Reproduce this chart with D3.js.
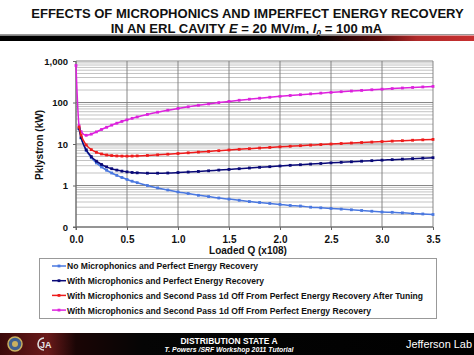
<!DOCTYPE html>
<html><head><meta charset="utf-8">
<script src="https://cdn.jsdelivr.net/npm/d3@7/dist/d3.min.js"></script>
<style>body{margin:0;background:#fff}svg{display:block}text{font-family:"Liberation Sans",Arial,sans-serif}</style>
</head><body>
<script>
const xValues = [0, 0.03, 0.05, 0.1, 0.15, 0.2, 0.25, 0.3, 0.35, 0.4, 0.45, 0.5, 0.55, 0.6, 0.7, 0.8, 0.9, 1.0, 1.1, 1.2, 1.3, 1.4, 1.5, 1.6, 1.7, 1.8, 1.9, 2.0, 2.1, 2.2, 2.3, 2.4, 2.5, 2.6, 2.7, 2.8, 2.9, 3.0, 3.1, 3.2, 3.3, 3.4, 3.5];
const noMicro = [null, 23.3, 14, 7, 4.67, 3.5, 2.8, 2.33, 2.0, 1.75, 1.56, 1.4, 1.27, 1.17, 1.0, 0.875, 0.78, 0.7, 0.64, 0.58, 0.54, 0.5, 0.47, 0.44, 0.41, 0.39, 0.37, 0.35, 0.33, 0.32, 0.30, 0.29, 0.28, 0.27, 0.26, 0.25, 0.24, 0.23, 0.226, 0.219, 0.212, 0.206, 0.2];
const withMicro = [null, 23.4, 14.2, 7.23, 4.96, 3.85, 3.21, 2.81, 2.54, 2.35, 2.22, 2.13, 2.06, 2.02, 1.98, 1.98, 2.0, 2.05, 2.11, 2.18, 2.26, 2.35, 2.44, 2.54, 2.64, 2.74, 2.84, 2.95, 3.06, 3.17, 3.28, 3.39, 3.51, 3.62, 3.73, 3.85, 3.97, 4.08, 4.2, 4.32, 4.44, 4.56, 4.68];
const offTuned = [null, 25.6, 16.4, 9.5, 7.32, 6.3, 5.75, 5.43, 5.25, 5.15, 5.11, 5.1, 5.12, 5.17, 5.3, 5.48, 5.68, 5.9, 6.14, 6.38, 6.64, 6.9, 7.17, 7.44, 7.71, 7.99, 8.27, 8.55, 8.83, 9.12, 9.4, 9.69, 9.98, 10.27, 10.56, 10.85, 11.14, 11.43, 11.73, 12.02, 12.31, 12.61, 12.9];
const offUntuned = [780, 27.6, 19.8, 16.2, 17.3, 19.6, 22.4, 25.3, 28.5, 31.7, 35.0, 38.2, 41.5, 44.9, 51.6, 58.4, 65.2, 72, 78.8, 85.7, 92.5, 99.4, 106.3, 113.2, 120, 127, 133.8, 140.6, 147.5, 154.4, 161.3, 168.2, 175, 182, 188.9, 195.8, 202.7, 209.5, 216.4, 223.3, 230.2, 237.1, 244];
const seriesNames = ["No Microphonics and Perfect Energy Recovery", "With Microphonics and Perfect Energy Recovery", "With Microphonics and Second Pass 1d Off From Perfect Energy Recovery After Tuning", "With Microphonics and Second Pass 1d Off From Perfect Energy Recovery"];
const seriesColors = ["#4a78e0", "#0a0a78", "#ee1c1c", "#dd22dd"];
const xTicks = [0, 0.5, 1.0, 1.5, 2.0, 2.5, 3.0, 3.5];
const yTicks = [0.1, 1, 10, 100, 1000];
const yTickLabels = ["0", "1", "10", "100", "1,000"];

const W = 474, H = 355;
const svg = d3.select("body").append("svg").attr("width", W).attr("height", H);
const defs = svg.append("defs");
const g1 = defs.append("linearGradient").attr("id", "band").attr("x1", 0).attr("x2", 1);
g1.append("stop").attr("offset", "0%").attr("stop-color", "#000");
g1.append("stop").attr("offset", "66%").attr("stop-color", "#000");
g1.append("stop").attr("offset", "80%").attr("stop-color", "#5a0c0c");
g1.append("stop").attr("offset", "88%").attr("stop-color", "#b02a2a");
g1.append("stop").attr("offset", "100%").attr("stop-color", "#c83030");
const g2 = defs.append("linearGradient").attr("id", "foot").attr("x1", 0).attr("x2", 1);
g2.append("stop").attr("offset", "0%").attr("stop-color", "#3a0a0a");
g2.append("stop").attr("offset", "10%").attr("stop-color", "#6a1a1a");
g2.append("stop").attr("offset", "16%").attr("stop-color", "#1a0505");
g2.append("stop").attr("offset", "30%").attr("stop-color", "#050505");
g2.append("stop").attr("offset", "100%").attr("stop-color", "#000");

// Title
const title = svg.append("g").attr("font-weight", "bold").attr("fill", "#111");
const t1 = title.append("text").attr("x", 247.5).attr("y", 18).attr("text-anchor", "middle")
  .attr("font-size", 14).text("EFFECTS OF MICROPHONICS AND IMPERFECT ENERGY RECOVERY");
const w1 = t1.node().getComputedTextLength();
const fs = Math.min(14.5, 14 * 433 / w1);
t1.attr("font-size", fs);
const t2 = title.append("text").attr("x", 246.5).attr("y", 33).attr("text-anchor", "middle").attr("font-size", fs);
t2.append("tspan").text("IN AN ERL CAVITY ");
t2.append("tspan").attr("font-style", "italic").text("E");
t2.append("tspan").text(" = 20 MV/m, ");
t2.append("tspan").attr("font-style", "italic").text("I");
t2.append("tspan").attr("font-style", "italic").attr("font-size", fs * 0.65).attr("dy", 3).text("0");
t2.append("tspan").attr("dy", -3).text(" = 100 mA");

svg.append("rect").attr("x", 0).attr("y", 34).attr("width", W).attr("height", 1).attr("fill", "#999");
svg.append("rect").attr("x", 0).attr("y", 35.5).attr("width", W).attr("height", 5.5).attr("fill", "url(#band)");

// Plot
const L = 76, R = 433, T = 61, B = 227;
const x = d3.scaleLinear().domain([0, 3.5]).range([L, R]);
const y = d3.scaleLog().domain([0.1, 1000]).range([B, T]);

const grid = svg.append("g");
const minor = [];
[0.1, 1, 10, 100].forEach(d => { for (let k = 2; k <= 9; k++) minor.push(d * k); });
grid.selectAll(".mn").data(minor).join("line")
  .attr("x1", L).attr("x2", R).attr("y1", d => y(d)).attr("y2", d => y(d))
  .attr("stroke", "#b4b4b4").attr("stroke-width", 0.8);
grid.selectAll(".mj").data(yTicks).join("line")
  .attr("x1", L).attr("x2", R).attr("y1", d => y(d)).attr("y2", d => y(d))
  .attr("stroke", "#7a7a7a").attr("stroke-width", 0.9);
grid.selectAll(".vx").data(xTicks).join("line")
  .attr("x1", d => x(d)).attr("x2", d => x(d)).attr("y1", T).attr("y2", B)
  .attr("stroke", "#7a7a7a").attr("stroke-width", 0.9);
svg.append("line").attr("x1", L).attr("x2", L).attr("y1", T).attr("y2", B + 3).attr("stroke", "#666");
svg.append("line").attr("x1", L - 3).attr("x2", R).attr("y1", B).attr("y2", B).attr("stroke", "#666");

// Axes via d3
const yAxis = svg.append("g").attr("transform", `translate(${L},0)`)
  .call(d3.axisLeft(y).tickValues(yTicks).tickFormat((d, i) => yTickLabels[i]).tickSize(3).tickPadding(5));
yAxis.select(".domain").remove();
yAxis.selectAll("text").attr("font-size", 9.5).attr("font-weight", "bold").attr("fill", "#111").attr("font-family", "Liberation Sans, Arial, sans-serif");
yAxis.selectAll("line").attr("stroke", "#666");
const xAxis = svg.append("g").attr("transform", `translate(0,${B})`)
  .call(d3.axisBottom(x).tickValues(xTicks).tickFormat(d3.format(".1f")).tickSize(3).tickPadding(6));
xAxis.select(".domain").remove();
xAxis.selectAll("text").attr("font-size", 10).attr("font-weight", "bold").attr("fill", "#111").attr("font-family", "Liberation Sans, Arial, sans-serif");
xAxis.selectAll("line").attr("stroke", "#666");

svg.append("text").attr("transform", "translate(43,145) rotate(-90)").attr("text-anchor", "middle")
  .attr("font-size", 10).attr("font-weight", "bold").attr("fill", "#111").text("Pklystron (kW)");
svg.append("text").attr("x", 248).attr("y", 254).attr("text-anchor", "middle")
  .attr("font-size", 10).attr("font-weight", "bold").attr("fill", "#111").text("Loaded Q (x108)");

// Series
const allSeries = [noMicro, withMicro, offTuned, offUntuned];
const line = d3.line().defined(d => d[1] != null).x(d => x(d[0])).y(d => y(d[1])).curve(d3.curveMonotoneX);
const order = [3, 0, 1, 2];
order.forEach(i => {
  const pts = xValues.map((xv, j) => [xv, allSeries[i][j]]);
  svg.append("path").datum(pts).attr("d", line).attr("fill", "none")
    .attr("stroke", seriesColors[i]).attr("stroke-width", 1.5);
  svg.append("g").selectAll("rect").data(pts.filter(d => d[1] != null)).join("rect")
    .attr("x", d => x(d[0]) - 1.4).attr("y", d => y(d[1]) - 1.4).attr("width", 2.8).attr("height", 2.8)
    .attr("fill", seriesColors[i]);
});

// Legend
svg.append("rect").attr("x", 39.5).attr("y", 258.5).attr("width", 397).attr("height", 60)
  .attr("fill", "#fff").attr("stroke", "#999").attr("stroke-width", 1);
const legW = [191, 197, 356, 304];
seriesNames.forEach((n, i) => {
  const ly = 266 + i * 14.7;
  svg.append("line").attr("x1", 52).attr("x2", 66).attr("y1", ly).attr("y2", ly)
    .attr("stroke", seriesColors[i]).attr("stroke-width", 1.5);
  svg.append("rect").attr("x", 57.6).attr("y", ly - 1.4).attr("width", 2.8).attr("height", 2.8).attr("fill", seriesColors[i]);
  svg.append("text").attr("x", 67).attr("y", ly + 3.4).attr("font-size", 9.8).attr("font-weight", "bold")
    .attr("fill", "#111").attr("textLength", legW[i]).attr("lengthAdjust", "spacingAndGlyphs").text(n);
});

// Footer
svg.append("rect").attr("x", 0).attr("y", 333).attr("width", W).attr("height", 22).attr("fill", "url(#foot)");
svg.append("circle").attr("cx", 15).attr("cy", 344).attr("r", 7).attr("fill", "#3f5f8f").attr("stroke", "#c9b060").attr("stroke-width", 1.5);
svg.append("circle").attr("cx", 15).attr("cy", 344).attr("r", 3).attr("fill", "#c9b060");
svg.append("path").attr("d", "M44,338 A6,6 0 1,0 44,350").attr("fill", "none").attr("stroke", "#ddd").attr("stroke-width", 1.6);
svg.append("text").attr("x", 40).attr("y", 347.5).attr("font-size", 9).attr("font-weight", "bold").attr("fill", "#e8e8e8").text("JA");
svg.append("text").attr("x", 229).attr("y", 344).attr("text-anchor", "middle").attr("font-size", 9).attr("font-weight", "bold")
  .attr("fill", "#fff").attr("font-family", "DejaVu Sans, sans-serif").attr("textLength", 97).attr("lengthAdjust", "spacingAndGlyphs").text("DISTRIBUTION STATE A");
svg.append("text").attr("x", 229).attr("y", 352).attr("text-anchor", "middle").attr("font-size", 7).attr("font-weight", "bold").attr("font-style", "italic")
  .attr("fill", "#fff").attr("font-family", "DejaVu Sans, sans-serif").attr("textLength", 129).attr("lengthAdjust", "spacingAndGlyphs").text("T. Powers /SRF Workshop 2011 Tutorial");
svg.append("text").attr("x", 406).attr("y", 347.5).attr("font-size", 11.5).attr("fill", "#fff")
  .attr("font-family", "DejaVu Sans, sans-serif").attr("textLength", 66).attr("lengthAdjust", "spacingAndGlyphs").text("Jefferson Lab");
</script>
</body></html>
